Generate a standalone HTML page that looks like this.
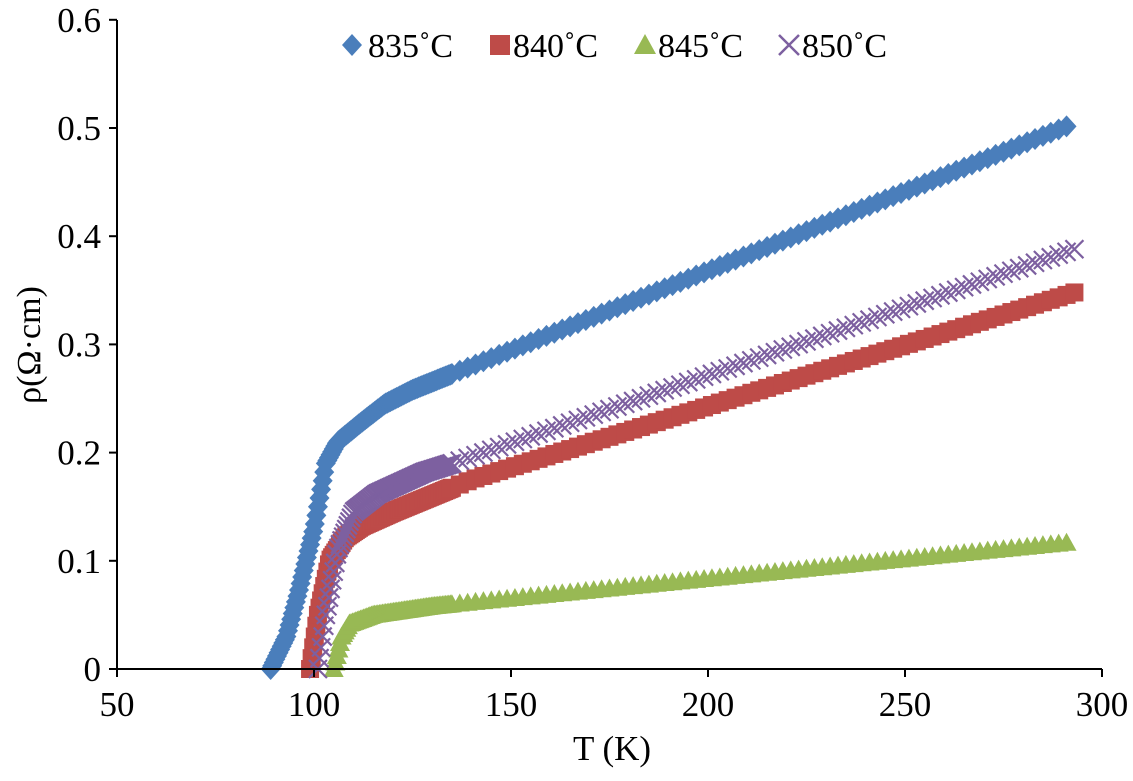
<!DOCTYPE html>
<html><head><meta charset="utf-8"><style>
body{margin:0;background:#fff}
svg text{font-family:"Liberation Serif",serif;fill:#000}
</style></head><body>
<svg id="s" width="1133" height="776" xmlns="http://www.w3.org/2000/svg">
<g id="data"></g>
<line x1="117" y1="20" x2="117" y2="677" stroke="#000" stroke-width="2"/>
<line x1="109" y1="669" x2="1102" y2="669" stroke="#000" stroke-width="2"/>
<g id="ticks" stroke="#000" stroke-width="2"></g>
<g font-size="35" text-anchor="end" id="yl"></g>
<g font-size="35" text-anchor="middle" id="xl"></g>
<text x="612" y="760" font-size="35" text-anchor="middle">T (K)</text>
<text transform="translate(40,345) rotate(-90)" font-size="34" text-anchor="middle">ρ(Ω·cm)</text>
<g font-size="34">
<path d="M352 34 L362 45 L352 56 L342 45Z" fill="#4a7ebb"/><text x="368" y="57">835˚C</text>
<rect x="490" y="35" width="20" height="20" fill="#be4b48"/><text x="513" y="57">840˚C</text>
<path d="M645 34 L656 54 L634 54Z" fill="#98b954"/><text x="658" y="57">845˚C</text>
<path d="M779 35 L799 55 M799 35 L779 55" stroke="#7d60a0" stroke-width="2.5"/><text x="802" y="57">850˚C</text>
</g>
</svg>
<script>
const X=t=>117+(t-50)*197/50, Y=r=>669-r*1082;
const ns="http://www.w3.org/2000/svg";
const tk=document.getElementById('ticks'),yl=document.getElementById('yl'),xl=document.getElementById('xl');
function el(p,n,a){const e=document.createElementNS(ns,n);for(const k in a)e.setAttribute(k,a[k]);p.appendChild(e);return e;}
for(let i=0;i<=6;i++){const y=Y(i/10);el(tk,'line',{x1:109,x2:117,y1:y,y2:y});el(yl,'text',{x:101,y:y+12}).textContent=i==0?'0':(i/10).toFixed(1);}
for(let t=50;t<=300;t+=50){const x=X(t);el(tk,'line',{x1:x,x2:x,y1:669,y2:677});el(xl,'text',{x:x,y:716}).textContent=t;}
function interp(k,t){for(let i=0;i<k.length-1;i++){if(t<=k[i+1][0]){const a=k[i],b=k[i+1];return a[1]+(b[1]-a[1])*(t-a[0])/(b[0]-a[0]);}}return k[k.length-1][1];}
const S=[
 {c:'#98b954',m:'tri',k:[[105,0],[107,0.03],[109,0.042],[115,0.05],[130,0.058],[292,0.117]],t0:105,t1:292},
 {c:'#be4b48',m:'sq',k:[[99,0],[101,0.05],[104,0.1],[108,0.122],[112,0.132],[120,0.145],[130,0.16],[140,0.175],[293,0.348]],t0:99,t1:293},
 {c:'#7d60a0',m:'x',k:[[101,0],[103,0.05],[106,0.11],[110,0.145],[116,0.162],[128,0.182],[135,0.19],[293,0.388]],t0:101,t1:293},
 {c:'#4a7ebb',m:'dia',k:[[89,0],[93,0.03],[96,0.07],[100,0.13],[103,0.19],[106,0.21],[112,0.228],[118,0.245],[125,0.258],[292,0.503]],t0:89,t1:292}
];
const g=document.getElementById('data');
S.forEach(s=>{let t=s.t0;while(t<=s.t1+0.01){const x=X(t),y=Y(interp(s.k,t));
 if(s.m=='dia')el(g,'path',{d:`M${x} ${y-11}L${x+10} ${y}L${x} ${y+11}L${x-10} ${y}Z`,fill:s.c});
 else if(s.m=='sq')el(g,'rect',{x:x-9,y:y-9,width:18,height:18,fill:s.c});
 else if(s.m=='tri')el(g,'path',{d:`M${x} ${y-10}L${x+10} ${y+8}L${x-10} ${y+8}Z`,fill:s.c});
 else el(g,'path',{d:`M${x-9} ${y-9}L${x+9} ${y+9}M${x+9} ${y-9}L${x-9} ${y+9}`,stroke:s.c,'stroke-width':2.2});
 t+= t<135?0.4:2;}});
</script>
</body></html>
